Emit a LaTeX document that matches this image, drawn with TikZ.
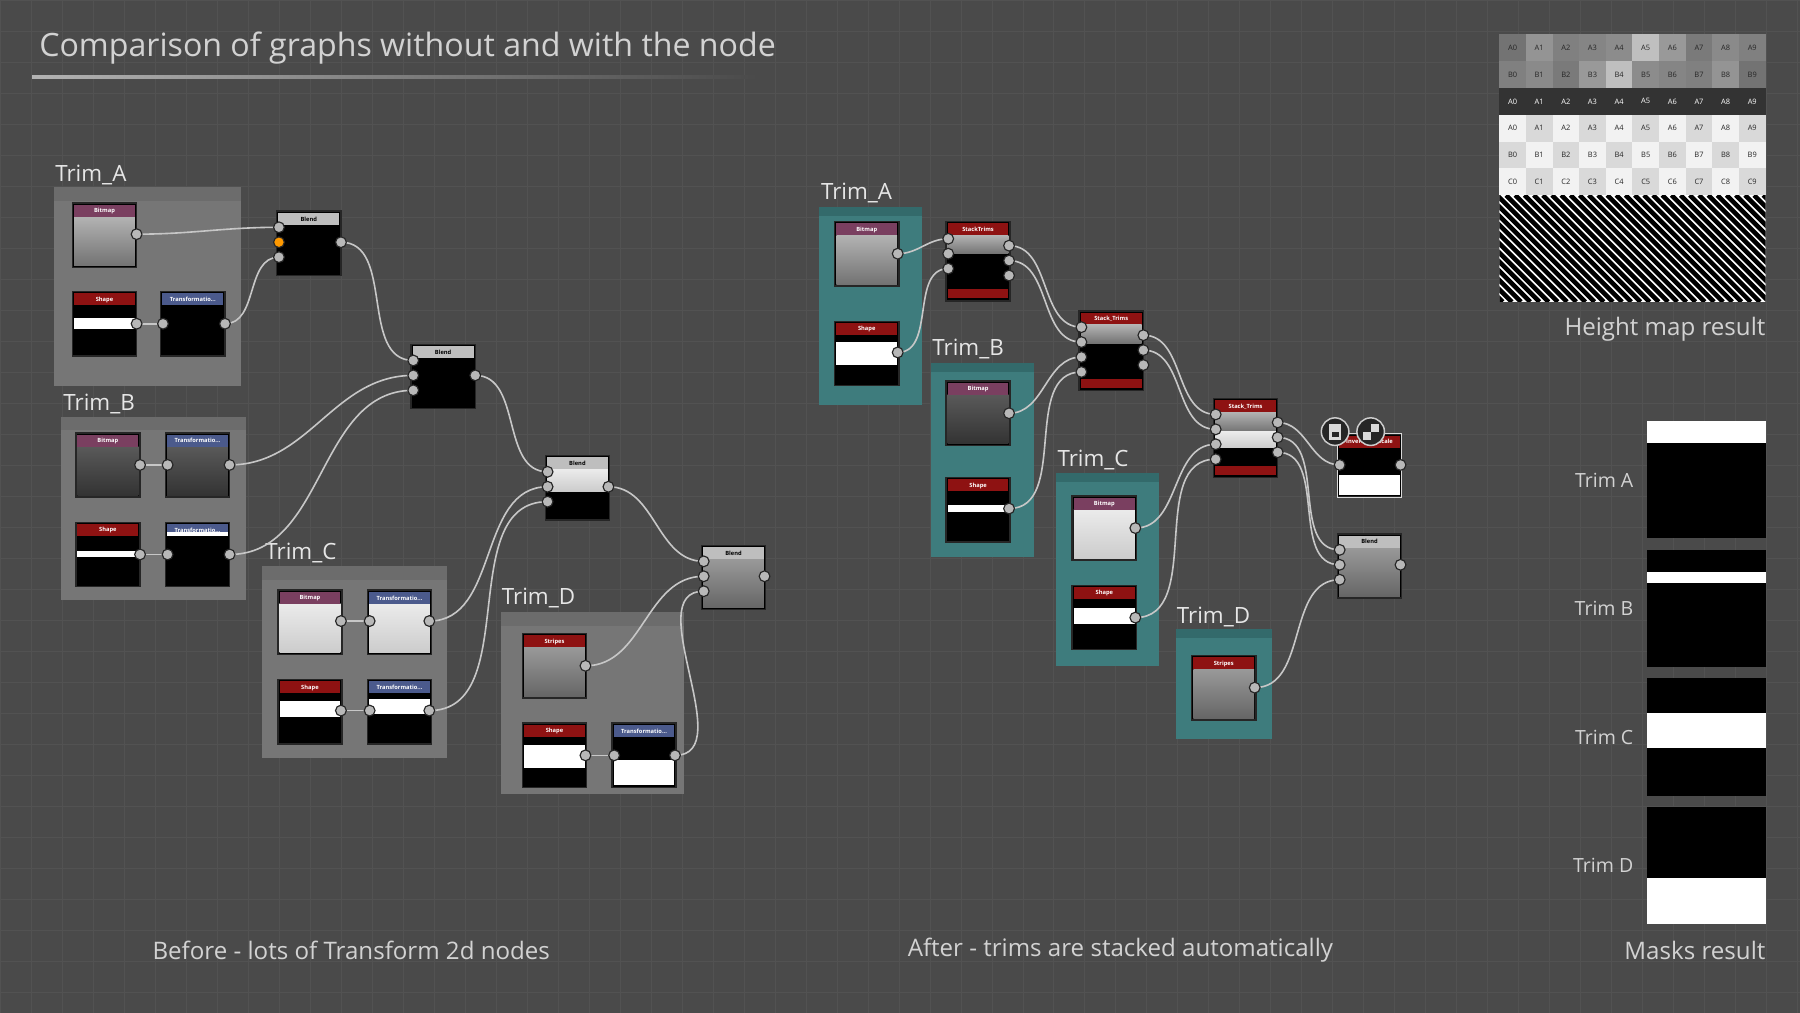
\documentclass[tikz,border=0pt]{standalone}
\usepackage{fontspec}
\setmainfont{Open Sans}
\definecolor{bg}{HTML}{4A4A4A}
\definecolor{gridc}{HTML}{525252}
\definecolor{grp}{HTML}{767676}
\definecolor{grpt}{HTML}{6C6C6C}
\definecolor{teal}{HTML}{3E7C7D}
\definecolor{tealt}{HTML}{336A6B}
\definecolor{hbit}{HTML}{7A3F60}
\definecolor{hred}{HTML}{8E1212}
\definecolor{htr}{HTML}{4B5A8C}
\definecolor{hbl}{HTML}{BEBEBE}
\definecolor{txt}{HTML}{E6E6E6}
\definecolor{cap}{HTML}{D2D2D2}
\begin{document}
\begin{tikzpicture}[x=1pt,y=-1pt,
 gbox/.style={draw=black!85,line width=1.3pt,fill=black,minimum width=56pt,inner sep=0,outer sep=0},
 htext/.style={font=\fontsize{5}{6}\selectfont\bfseries,text=white,inner sep=0},
 wire/.style={draw=black!22,line width=1.4pt},
 glab/.style={font=\fontsize{19.5}{21}\selectfont,text=txt,inner sep=0,anchor=south west},
 tex/.style={top color=black!30,bottom color=black!55},
 texdark/.style={top color=black!65,bottom color=black!80},
 texwhite/.style={top color=black!8,bottom color=black!20},
 texmid/.style={top color=black!40,bottom color=black!60},
 cell/.style={font=\fontsize{6.5}{8}\selectfont,inner sep=0},
 captxt/.style={font=\fontsize{21}{24}\selectfont,text=cap,inner sep=0}]
\useasboundingbox (0,0) rectangle (1568,882);
\fill[bg] (0,0) rectangle (1568,882);
\foreach \i in {0,...,58} \draw[gridc,line width=0.6pt] (\i*27,0) -- (\i*27,882);
\foreach \i in {0,...,33} \draw[gridc,line width=0.6pt] (0,\i*27) -- (1568,\i*27);

\newcommand\gn[7]{%
 \node[gbox,minimum height=#4pt] (#1) at (#2+28,#3+#4/2) {};
 \fill[#7] (#2+1.5,#3+12) rectangle (#2+54.5,#3+#4-1.5);
 \fill[#6] (#2+1.5,#3+1.5) rectangle (#2+54.5,#3+12);
 \node[htext] at (#2+28,#3+7) {#5};}
\newcommand\band[4][white]{\fill[#1] (#2+1.5,#3) rectangle (#2+54.5,#4);}

% title
\node[font=\fontsize{28}{32}\selectfont,text=cap,anchor=west,inner sep=0] (title) at (34,42) {Comparison of graphs without and with the node};
\shade[left color=black!30,right color=bg] (28,66) rectangle (660,68.5);

% ---------- left graph groups
\fill[grp] (47,163) rectangle (210,336); \fill[grpt] (47,163) rectangle (210,175);
\node[glab] (gla) at (48,161) {Trim\_A};
\fill[grp] (53,363) rectangle (214,523); \fill[grpt] (53,363) rectangle (214,375);
\node[glab] (glb) at (55,361) {Trim\_B};
\fill[grp] (228,493) rectangle (389,660); \fill[grpt] (228,493) rectangle (389,505);
\node[glab] (glc) at (231,491) {Trim\_C};
\fill[grp] (436,533) rectangle (596,692); \fill[grpt] (436,533) rectangle (596,545);
\node[glab] (gld) at (437,530) {Trim\_D};

% ---------- right graph groups
\fill[teal] (713,180) rectangle (803,353); \fill[tealt] (713,180) rectangle (803,188);
\node[glab] (gra) at (715,177) {Trim\_A};
\fill[teal] (811,316) rectangle (901,485); \fill[tealt] (811,316) rectangle (901,324);
\node[glab] (grb) at (812,313) {Trim\_B};
\fill[teal] (920,412) rectangle (1010,580); \fill[tealt] (920,412) rectangle (1010,420);
\node[glab] (grc) at (921,410) {Trim\_C};
\fill[teal] (1024,548) rectangle (1108,644); \fill[tealt] (1024,548) rectangle (1108,556);
\node[glab] (grd) at (1025,546) {Trim\_D};

% ---------- left nodes
\gn{la1}{63}{177}{56}{Bitmap}{hbit}{tex}
\gn{la2}{63}{254}{56}{Shape}{hred}{black} \band{63}{277}{287}
\gn{la3}{140}{254}{56}{Transformatio...}{htr}{black}
\gn{bl1}{241}{184}{56}{\color{black}Blend}{hbl}{black}
\gn{lb1}{66}{377}{56}{Bitmap}{hbit}{texdark}
\gn{lb2}{144}{377}{56}{Transformatio...}{htr}{texdark}
\gn{lb3}{66}{455}{56}{Shape}{hred}{black} \band{66}{480}{485}
\gn{lb4}{144}{455}{56}{Transformatio...}{htr}{black} \band{144}{463}{467}
\gn{bl2}{358}{300}{56}{\color{black}Blend}{hbl}{black}
\gn{lc1}{242}{514}{56}{Bitmap}{hbit}{texwhite}
\gn{lc2}{320}{514}{56}{Transformatio...}{htr}{texwhite}
\gn{lc3}{242}{592}{56}{Shape}{hred}{black} \band{242}{611}{625}
\gn{lc4}{320}{592}{56}{Transformatio...}{htr}{black} \band{320}{609}{622}
\gn{bl3}{475}{397}{56}{\color{black}Blend}{hbl}{black} \band[texwhite]{475}{409}{428}
\gn{ld1}{455}{552}{56}{Stripes}{hred}{texmid}
\gn{ld2}{455}{630}{56}{Shape}{hred}{black} \band{455}{649}{669}
\gn{ld3}{533}{630}{56}{Transformatio...}{htr}{black} \band{533}{662}{684}
\gn{bl4}{611}{475}{56}{\color{black}Blend}{hbl}{texmid}

% ---------- right nodes
\gn{ra1}{727}{193}{56}{Bitmap}{hbit}{tex}
\gn{ra2}{727}{280}{56}{Shape}{hred}{black} \band{727}{298}{318}
\gn{st1}{824}{193}{69}{StackTrims}{hred}{black} \band[tex]{824}{205}{221} \band[hred]{824}{252}{260}
\gn{rb1}{824}{332}{56}{Bitmap}{hbit}{texdark}
\gn{rb2}{824}{416}{56}{Shape}{hred}{black} \band{824}{440}{446}
\gn{st2}{940}{271}{69}{Stack\_Trims}{hred}{black} \band[tex]{940}{283}{299} \band[hred]{940}{330}{338}
\gn{rc1}{934}{432}{56}{Bitmap}{hbit}{texwhite}
\gn{rc2}{934}{510}{56}{Shape}{hred}{black} \band{934}{530}{544}
\gn{st3}{1057}{347}{69}{Stack\_Trims}{hred}{black} \band[tex]{1057}{359}{376} \band[texwhite]{1057}{376}{390} \band[hred]{1057}{406}{414}
\gn{rd1}{1038}{571}{56}{Stripes}{hred}{texmid}
\gn{inv}{1165}{378}{55}{Invert Grayscale}{hred}{black} \band{1165}{414}{431}
\draw[black!15,line width=0.8pt] (inv.north west) rectangle (inv.south east);
\gn{bl5}{1165}{465}{56}{\color{black}Blend}{hbl}{texmid}

% ---------- ports
\coordinate (pa1o) at (119,204); \coordinate (pa2o) at (119,282);
\coordinate (pa3i) at (142,282); \coordinate (pa3o) at (196,282);
\coordinate (b1i1) at (243,198); \coordinate (b1i2) at (243,211); \coordinate (b1i3) at (243,224); \coordinate (b1o) at (297,211);
\coordinate (pb1o) at (122,405); \coordinate (pb2i) at (146,405); \coordinate (pb2o) at (200,405);
\coordinate (pb3o) at (122,483); \coordinate (pb4i) at (146,483); \coordinate (pb4o) at (200,483);
\coordinate (b2i1) at (360,314); \coordinate (b2i2) at (360,327); \coordinate (b2i3) at (360,340); \coordinate (b2o) at (414,327);
\coordinate (pc1o) at (297,541); \coordinate (pc2i) at (322,541); \coordinate (pc2o) at (374,541);
\coordinate (pc3o) at (297,619); \coordinate (pc4i) at (322,619); \coordinate (pc4o) at (374,619);
\coordinate (b3i1) at (477,411); \coordinate (b3i2) at (477,424); \coordinate (b3i3) at (477,437); \coordinate (b3o) at (530,424);
\coordinate (pd1o) at (510,580); \coordinate (pd2o) at (510,658); \coordinate (pd3i) at (535,658); \coordinate (pd3o) at (588,658);
\coordinate (b4i1) at (613,489); \coordinate (b4i2) at (613,502); \coordinate (b4i3) at (613,515); \coordinate (b4o) at (666,502);
\coordinate (ra1o) at (782,221); \coordinate (ra2o) at (782,307);
\coordinate (s1i1) at (826,208); \coordinate (s1i2) at (826,221); \coordinate (s1i3) at (826,234);
\coordinate (s1o1) at (879,214); \coordinate (s1o2) at (879,227); \coordinate (s1o3) at (879,240);
\coordinate (rb1o) at (879,360); \coordinate (rb2o) at (879,443);
\coordinate (s2i1) at (942,285); \coordinate (s2i2) at (942,298); \coordinate (s2i3) at (942,311); \coordinate (s2i4) at (942,324);
\coordinate (s2o1) at (996,292); \coordinate (s2o2) at (996,305); \coordinate (s2o3) at (996,318);
\coordinate (rc1o) at (989,460); \coordinate (rc2o) at (989,538);
\coordinate (s3i1) at (1059,361); \coordinate (s3i2) at (1059,374); \coordinate (s3i3) at (1059,387); \coordinate (s3i4) at (1059,400);
\coordinate (s3o1) at (1113,368); \coordinate (s3o2) at (1113,381); \coordinate (s3o3) at (1113,394);
\coordinate (rd1o) at (1093,599);
\coordinate (invi) at (1167,405); \coordinate (invo) at (1220,405);
\coordinate (b5i1) at (1167,479); \coordinate (b5i2) at (1167,492); \coordinate (b5i3) at (1167,505); \coordinate (b5o) at (1220,492);

% ---------- wires
\foreach \a/\b in {pa1o/b1i1,pa2o/pa3i,pa3o/b1i3,pb1o/pb2i,pb3o/pb4i,b1o/b2i1,pb2o/b2i2,pb4o/b2i3,
 pc1o/pc2i,pc3o/pc4i,b2o/b3i1,pc2o/b3i2,pc4o/b3i3,pd2o/pd3i,b3o/b4i1,pd1o/b4i2,pd3o/b4i3,
 ra1o/s1i1,ra2o/s1i3,s1o1/s2i1,s1o2/s2i2,rb1o/s2i3,rb2o/s2i4,s2o1/s3i1,s2o2/s3i2,rc1o/s3i3,rc2o/s3i4,
 s3o1/invi,s3o2/b5i1,s3o3/b5i2,rd1o/b5i3}
 \draw[wire] (\a) to[out=0,in=180] (\b);

\foreach \p in {pa1o,pa2o,pa3i,pa3o,b1i1,b1i3,b1o,pb1o,pb2i,pb2o,pb3o,pb4i,pb4o,b2i1,b2i2,b2i3,b2o,
 pc1o,pc2i,pc2o,pc3o,pc4i,pc4o,b3i1,b3i2,b3i3,b3o,pd1o,pd2o,pd3i,pd3o,b4i1,b4i2,b4i3,b4o,
 ra1o,ra2o,s1i1,s1i2,s1i3,s1o1,s1o2,s1o3,rb1o,rb2o,s2i1,s2i2,s2i3,s2i4,s2o1,s2o2,s2o3,rc1o,rc2o,
 s3i1,s3i2,s3i3,s3i4,s3o1,s3o2,s3o3,rd1o,invi,invo,b5i1,b5i2,b5i3,b5o}
 \filldraw[fill=black!28,draw=black!85,line width=1pt] (\p) circle (4.7pt);
\filldraw[fill=orange!80!yellow,draw=black!85,line width=1pt] (b1i2) circle (4.7pt);

% icons over invert node
\filldraw[fill=black!85,draw=black!20,line width=1.3pt] (1163,376) circle (12pt);
\filldraw[fill=black!85,draw=black!20,line width=1.3pt] (1194,376) circle (12pt);
\fill[black!15] (1158,369) rectangle (1168,383);
\fill[black!85] (1160,376) rectangle (1166,381);
\fill[black!15] (1187,369) rectangle (1201,383);
\fill[black!85] (1187,369) rectangle (1194,376); \fill[black!85] (1194,376) rectangle (1201,383);

% ---------- height map grid
\def\rA{{55,42,50,48,45,25,40,52,46,50}}
\foreach \c in {0,...,9}{
 \pgfmathsetmacro\ga{\rA[\c]}
 \pgfmathsetmacro\gb{\rA[9-\c]}
 \fill[black!\ga] (1306+\c*23.2,30) rectangle (1306+\c*23.2+23.2,53.3);
 \fill[black!\gb] (1306+\c*23.2,53.3) rectangle (1306+\c*23.2+23.2,76.6);
 \fill[black!80] (1306+\c*23.2,76.6) rectangle (1306+\c*23.2+23.2,100);
 \pgfmathsetmacro\ch{mod(\c,2)==0?5:15}
 \pgfmathsetmacro\cg{mod(\c,2)==0?15:5}
 \fill[black!\ch] (1306+\c*23.2,100) rectangle (1306+\c*23.2+23.2,123.3);
 \fill[black!\cg] (1306+\c*23.2,123.3) rectangle (1306+\c*23.2+23.2,146.6);
 \fill[black!\ch] (1306+\c*23.2,146.6) rectangle (1306+\c*23.2+23.2,170);
 \node[cell,text=black!85] at (1317.6+\c*23.2,41.6) {A\c};
 \node[cell,text=black!85] at (1317.6+\c*23.2,65) {B\c};
 \node[cell,text=white] at (1317.6+\c*23.2,88.3) {A\c};
 \node[cell,text=black!85] at (1317.6+\c*23.2,111.6) {A\c};
 \node[cell,text=black!85] at (1317.6+\c*23.2,135) {B\c};
 \node[cell,text=black!85] at (1317.6+\c*23.2,158.3) {C\c};
}
\begin{scope}
 \clip (1306,170) rectangle (1538,263);
 \fill[white] (1306,170) rectangle (1538,263);
 \foreach \x in {1200,1208,...,1540} \draw[black,line width=4pt] (\x,170) -- (\x+93,263);
\end{scope}
\node[captxt,anchor=east] (hmr) at (1538,287) {Height map result};

% ---------- masks
\fill[black] (1435,367) rectangle (1538,469); \fill[white] (1435,367) rectangle (1538,386);
\fill[black] (1435,479) rectangle (1538,581); \fill[white] (1435,498) rectangle (1538,508);
\fill[black] (1435,591) rectangle (1538,693); \fill[white] (1435,621) rectangle (1538,652);
\fill[black] (1435,703) rectangle (1538,805); \fill[white] (1435,765) rectangle (1538,805);
\foreach \t/\y in {A/418,B/530,C/642,D/754}
 \node[font=\fontsize{17}{19}\selectfont,text=cap,anchor=east,inner sep=0] at (1423,\y) {Trim \t};
\node[captxt,anchor=east] (mr) at (1538,828) {Masks result};

% captions
\node[captxt] (c1) at (306,828) {Before - lots of Transform 2d nodes};
\node[captxt] (c2) at (976,828) {After - trims are stacked automatically};
\end{tikzpicture}
\end{document}
